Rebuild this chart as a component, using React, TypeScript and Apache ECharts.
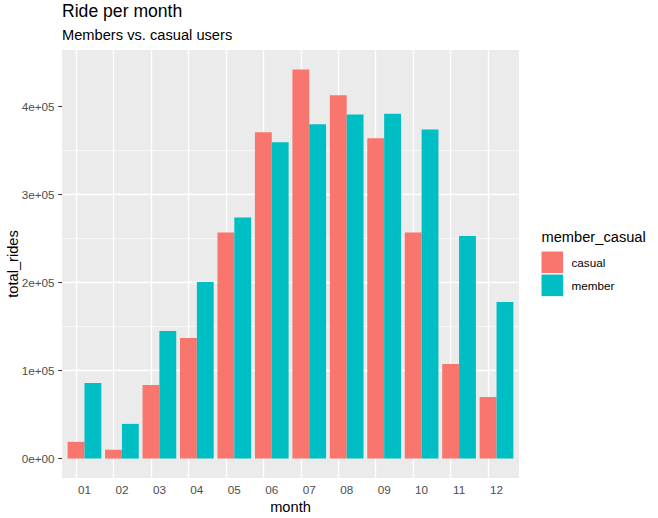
import { useEffect, useRef } from "react";
import * as echarts from "echarts";

const months = ["01", "02", "03", "04", "05", "06", "07", "08", "09", "10", "11", "12"];
const casualRides = [19000, 10000, 83600, 137000, 257000, 371000, 442300, 413000, 364000, 257000, 107500, 70000];
const memberRides = [86000, 39400, 145000, 200600, 274000, 359500, 380000, 391000, 392000, 374000, 253000, 178000];
const yMajorTicks = [0, 100000, 200000, 300000, 400000];
const yMinorTicks = [50000, 150000, 250000, 350000, 450000];

const FONT = '"Liberation Sans", Arial, Helvetica, sans-serif';
const CASUAL_COLOR = "#F8766D";
const MEMBER_COLOR = "#00BFC4";
const PANEL_BG = "#EBEBEB";
const WIDTH = 658;
const HEIGHT = 518;
// ggplot panel box, in pixels
const PANEL = { left: 62, top: 50, right: 519, bottom: 478 };

// 4e+05 style labels
const sciLabel = (v: number) => {
  const [mant, exp] = v.toExponential().split("e");
  return `${mant}e${exp[0]}${exp.slice(1).padStart(2, "0")}`;
};

const App = () => {
  const chartRef = useRef<HTMLDivElement>(null);

  useEffect(() => {
    if (!chartRef.current) {
      return;
    }
    const chart = echarts.init(chartRef.current, null, { renderer: "svg" });

    // discrete axis: 0.6 units of padding on each side of the categories
    const unit = (PANEL.right - PANEL.left) / (months.length + 0.2);
    // continuous axis: 5% expansion of the data range
    const dataMax = Math.max(...casualRides, ...memberRides);
    const yMin = -0.05 * dataMax;
    const yMax = 1.05 * dataMax;

    const option: echarts.EChartsOption = {
      animation: false,
      textStyle: { fontFamily: FONT },
      title: [
        {
          text: "Ride per month",
          left: PANEL.left,
          top: 1.5,
          padding: 0,
          textStyle: { fontSize: 17.6, fontWeight: "normal", color: "#000" },
        },
        {
          text: "Members vs. casual users",
          left: PANEL.left,
          top: 27,
          padding: 0,
          textStyle: { fontSize: 14.67, fontWeight: "normal", color: "#000" },
        },
        {
          text: "member_casual",
          left: 541.5,
          top: 229.5,
          padding: 0,
          textStyle: { fontSize: 14.67, fontWeight: "normal", color: "#000" },
        },
      ],
      legend: {
        data: ["casual", "member"],
        orient: "vertical",
        left: 541.5,
        top: 251.5,
        padding: 0,
        icon: "rect",
        itemWidth: 21.6,
        itemHeight: 21.6,
        itemGap: 1.44,
        selectedMode: false,
        textStyle: {
          fontSize: 11.7,
          color: "#000",
          padding: [0, 0, 0, 3.4],
        },
      },
      grid: [
        {
          // bars
          outerBoundsMode: "none",
          containLabel: false,
          left: PANEL.left + 0.1 * unit,
          right: WIDTH - (PANEL.right - 0.1 * unit),
          top: PANEL.top,
          bottom: HEIGHT - PANEL.bottom,
        },
        {
          // panel background + horizontal grid lines
          outerBoundsMode: "none",
          containLabel: false,
          show: true,
          backgroundColor: PANEL_BG,
          borderWidth: 0,
          left: PANEL.left,
          right: WIDTH - PANEL.right,
          top: PANEL.top,
          bottom: HEIGHT - PANEL.bottom,
        },
      ],
      xAxis: [
        {
          type: "category",
          gridIndex: 0,
          data: months,
          boundaryGap: true,
          axisLine: { show: false },
          axisTick: {
            alignWithLabel: true,
            length: 3.67,
            lineStyle: { color: "#333333", width: 1.1 },
          },
          axisLabel: { color: "#4D4D4D", fontSize: 11.7, margin: 5 },
          splitLine: { show: false },
          name: "month",
          nameLocation: "middle",
          nameGap: 18.5,
          nameTextStyle: { fontSize: 14.67, color: "#000" },
        },
        {
          type: "value",
          gridIndex: 1,
          min: 0,
          max: 1,
          show: false,
        },
      ],
      yAxis: [
        {
          type: "value",
          gridIndex: 0,
          min: yMin,
          max: yMax,
          show: false,
        },
        {
          type: "value",
          gridIndex: 1,
          min: yMin,
          max: yMax,
          axisLine: { show: false },
          axisTick: {
            show: true,
            customValues: yMajorTicks,
            length: 3.67,
            lineStyle: { color: "#333333", width: 1.1 },
          },
          axisLabel: {
            color: "#4D4D4D",
            fontSize: 11.7,
            margin: 7.5,
            formatter: (v: number) => (yMajorTicks.includes(v) ? sciLabel(v) : ""),
          },
          splitLine: {
            show: true,
            showMinLine: false,
            showMaxLine: false,
            lineStyle: { color: "#FFFFFF", width: 1.3 },
          },
          name: "total_rides",
          nameLocation: "middle",
          nameGap: 42,
          nameMoveOverlap: false,
          nameTextStyle: { fontSize: 14.67, color: "#000" },
        },
        {
          // minor grid lines
          type: "value",
          gridIndex: 1,
          min: yMin,
          max: yMax,
          axisLine: { show: false },
          axisTick: { show: false, customValues: yMinorTicks },
          axisLabel: { show: false },
          splitLine: {
            show: true,
            showMinLine: false,
            showMaxLine: false,
            lineStyle: { color: "#FFFFFF", width: 0.65 },
          },
        },
      ],
      series: [
        {
          name: "casual",
          type: "bar",
          xAxisIndex: 0,
          yAxisIndex: 0,
          data: casualRides,
          itemStyle: { color: CASUAL_COLOR },
          barGap: "0%",
          barCategoryGap: "10%",
          markLine: {
            z: 1,
            symbol: "none",
            silent: true,
            animation: false,
            label: { show: false },
            lineStyle: { color: "#FFFFFF", width: 1.3, type: "solid" },
            data: months.map((m) => ({ xAxis: m })),
          },
        },
        {
          name: "member",
          type: "bar",
          xAxisIndex: 0,
          yAxisIndex: 0,
          data: memberRides,
          itemStyle: { color: MEMBER_COLOR },
          barGap: "0%",
          barCategoryGap: "10%",
        },
      ],
    };

    chart.setOption(option);

    return () => {
      chart.dispose();
    };
  }, []);

  return (
    <div
      ref={chartRef}
      style={{ position: "fixed", left: 0, top: 0, width: WIDTH, height: HEIGHT, background: "#fff" }}
    />
  );
};

export default App;
